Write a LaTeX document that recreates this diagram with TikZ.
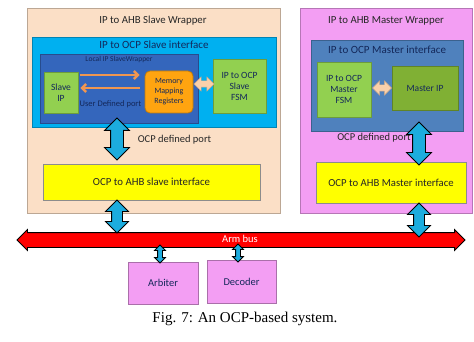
\documentclass[tikz,border=0pt]{standalone}
\usepackage{fontspec}
\setmainfont{Carlito}
\newfontfamily\capfont{Liberation Serif}
\usetikzlibrary{shapes.arrows,arrows.meta,positioning,calc}
\definecolor{wrappeach}{RGB}{251,223,198}
\definecolor{wrappink}{RGB}{243,158,243}
\definecolor{ifcyan}{RGB}{0,176,240}
\definecolor{locblue}{RGB}{52,102,188}
\definecolor{steelblue}{RGB}{79,129,189}
\definecolor{ipgreen}{RGB}{146,208,80}
\definecolor{olivegreen}{RGB}{128,176,52}
\definecolor{regorange}{RGB}{255,164,16}
\definecolor{boxyellow}{RGB}{255,255,0}
\definecolor{arrcyan}{RGB}{28,172,222}
\definecolor{linkpeach}{RGB}{250,208,170}
\definecolor{portorange}{RGB}{240,150,80}
\definecolor{busred}{RGB}{255,0,0}
\definecolor{navytext}{RGB}{20,40,90}

\begin{document}
\begin{tikzpicture}[x=1pt, y=-1pt,
  area/.style={draw=#1!75!black, fill=#1, rectangle, inner sep=0pt, line width=0.8pt},
  blk/.style={area=ipgreen, align=center, text=navytext, font=\fontsize{9.5}{11}\selectfont},
  title/.style={font=\fontsize{10.8}{13}\selectfont, text=black!85},
  fatv/.style={double arrow, rotate=90, draw=black, fill=arrcyan, line width=0.8pt,
    inner xsep=0pt, inner ysep=6pt, double arrow head extend=6pt, minimum height=#1},
  link/.style={double arrow, draw=linkpeach!80!black, fill=linkpeach, line width=0.4pt,
    inner xsep=0pt, inner ysep=3pt, double arrow head extend=4pt, minimum height=#1},
  portarr/.style={draw=portorange, line width=2.4pt, -{Straight Barb[length=4pt,width=8pt]}}
]
\useasboundingbox (0,0) rectangle (474,342);

% wrappers
\node[area=wrappeach, minimum width=253pt, minimum height=205pt] (slw) at (153.5,110.5) {};
\node[area=wrappink, minimum width=172pt, minimum height=205pt] (mw) at (386,110.5) {};
\node[title] at (153,21) {IP to AHB Slave Wrapper};
\node[title] at (386,21) {IP to AHB Master Wrapper};

% slave side
\node[area=ifcyan, minimum width=244pt, minimum height=90pt] (slint) at (154,82) {};
\node[title, text=navytext, font=\fontsize{11}{13}\selectfont] at (154,45) {IP to OCP Slave interface};
\node[area=locblue, minimum width=158pt, minimum height=69pt] (locw) at (119,88.5) {};
\node[font=\fontsize{7.5}{8}\selectfont, text=navytext] at (119,60) {Local IP SlaveWrapper};
\node[blk, minimum width=34pt, minimum height=41pt] (slip) at (61,92.5) {Slave\\IP};
\node[area=regorange, rounded corners=5pt, minimum width=48pt, minimum height=42pt,
  align=center, text=navytext, font=\fontsize{8}{10}\selectfont] (mmr) at (169,92) {Memory\\Mapping\\Registers};
\node[blk, minimum width=53pt, minimum height=54pt] (sfsm) at (239.5,86) {IP to OCP\\Slave\\FSM};
\draw[portarr] ([yshift=17.5pt, xshift=2pt]slip.east) -- ([yshift=17pt, xshift=-5pt]mmr.west);
\draw[portarr] ([yshift=4pt, xshift=-5pt]mmr.west) -- ([yshift=4.5pt, xshift=2pt]slip.east);
\node[font=\fontsize{8.5}{10}\selectfont, text=navytext] at (110.5,104) {User Defined port};
\node[link=20pt] (slink) at (204,84) {};
\node[area=boxyellow, draw=black!45, minimum width=217pt, minimum height=36pt, font=\fontsize{10.8}{12}\selectfont,
  text=black!85] (syel) at (151.5,182) {OCP to AHB slave interface};
\node[font=\fontsize{10.5}{12}\selectfont, text=black!85] at (174.5,140) {OCP defined port};
\node[fatv=42pt] (sa1) at (117,139) {};

% master side
\node[area=steelblue, minimum width=152pt, minimum height=91pt] (mint) at (387,85.5) {};
\node[title, text=navytext, font=\fontsize{11}{13}\selectfont] at (387,50) {IP to OCP Master interface};
\node[blk, minimum width=54pt, minimum height=55pt] (mfsm) at (344,89.5) {IP to OCP\\Master\\FSM};
\node[blk, area=olivegreen, text=navytext, minimum width=66pt, minimum height=44pt] (mip) at (425,88) {Master IP};
\node[link=19pt] (mlink) at (382,88) {};
\node[area=boxyellow, draw=black!45, minimum width=150pt, minimum height=41pt, font=\fontsize{10.7}{12}\selectfont,
  text=black!85] (myel) at (391,182.5) {OCP to AHB Master interface};
\node[font=\fontsize{10.5}{12}\selectfont, text=black!85] at (374,138) {OCP defined port};
\node[fatv=43pt] (ma1) at (419,143.5) {};

% bus
\node[double arrow, draw=black, fill=busred, line width=0.8pt, inner xsep=0pt, inner ysep=7pt,
  double arrow head extend=3pt, minimum height=448pt] (bus) at (241,240) {};
\node[text=white, font=\fontsize{10.5}{12}\selectfont] at (240,239) {Arm bus};
\node[fatv=33pt, inner ysep=5pt] (sa2) at (117,216.5) {};
\node[fatv=34pt, inner ysep=5pt] (ma2) at (419,220) {};

% arbiter and decoder
\node[area=wrappink, draw=wrappink!70!black, minimum width=70pt, minimum height=42pt,
  font=\fontsize{10.5}{12}\selectfont, text=navytext] (arb) at (163,283) {Arbiter};
\node[area=wrappink, draw=wrappink!70!black, minimum width=69pt, minimum height=43pt,
  font=\fontsize{10.5}{12}\selectfont, text=navytext] (dec) at (241.5,281.5) {Decoder};
\node[fatv=18pt, inner ysep=2pt, double arrow head extend=3pt] (aa) at (160,254) {};
\node[fatv=18pt, inner ysep=2pt, double arrow head extend=3pt] (da) at (238,253) {};

\node[font=\capfont\fontsize{15}{18}\selectfont] (cap) at (245,319) {Fig. 7: An OCP-based system.};
\end{tikzpicture}
\end{document}
